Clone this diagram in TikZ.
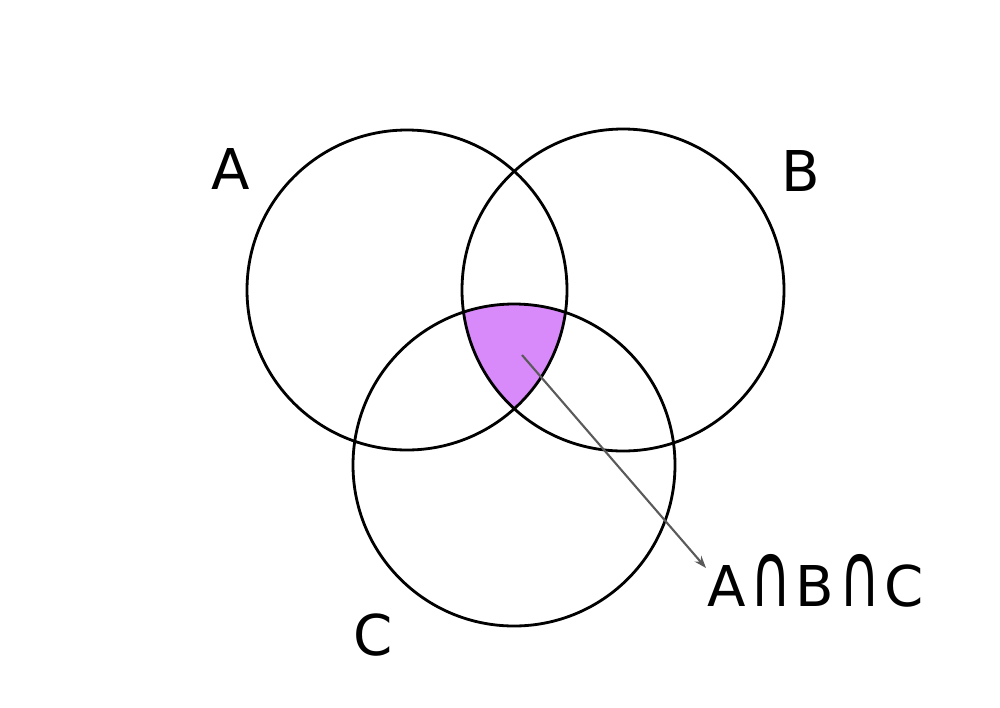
\documentclass[tikz,border=0pt]{standalone}
\usepackage{fontspec}
\usepackage{graphicx}
\setmainfont{DejaVu Sans}
\usetikzlibrary{arrows.meta}
\definecolor{lilac}{RGB}{217,138,250}
\definecolor{pointer}{RGB}{90,90,90}
\newcommand{\tallcap}{\kern0.08em\scalebox{1}[1.6]{∩}\kern0.08em}
\begin{document}
\begin{tikzpicture}[
		x=0.02cm, y=-0.02cm,
		set/.style={line width=1.6pt},
		setlabel/.style={font=\fontsize{32}{36}\selectfont, inner sep=0pt},
	]
	\useasboundingbox (0,0) rectangle (1000,707);
	% the common part of all three sets
	\begin{scope}
		\clip (407,290) circle (160);
		\clip (623,290) circle (161);
		\fill[lilac] (514,465) circle (161);
	\end{scope}
	\draw[set] (407,290) circle (160);
	\draw[set] (623,290) circle (161);
	\draw[set] (514,465) circle (161);
	\node[setlabel] (labA) at (231,169) {A};
	\node[setlabel] (labB) at (801,171) {B};
	\node[setlabel] (labC) at (373,635) {C};
	\node[setlabel, anchor=west] (labABC) at (707,581) {A\tallcap B\tallcap C};
	\coordinate (mid) at (522,355);
	\coordinate (tip) at (706,568);
	\draw[pointer, line width=1.2pt, -{Stealth[length=7pt,width=5pt]}] (mid) -- (tip);
\end{tikzpicture}
\end{document}
